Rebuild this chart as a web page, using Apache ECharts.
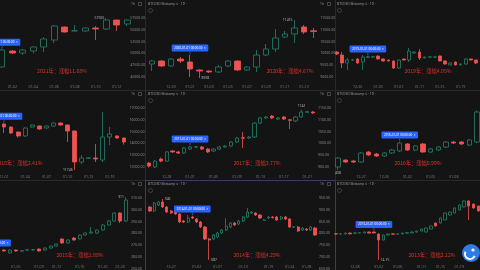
<!DOCTYPE html>
<html>
<head>
<meta charset="utf-8">
<script src="https://cdn.jsdelivr.net/npm/echarts@6/dist/echarts.min.js"></script>
<style>
html, body { margin: 0; padding: 0; background: #141414; }
#chart { width: 480px; height: 270px; }
</style>
</head>
<body>
<div id="chart"></div>
<script>
var years = ['2021', '2020', '2019', '2018', '2017', '2016', '2015', '2014', '2013'];
var gains = ['11.68%', '4.67%', '4.05%', '2.41%', '3.77%', '0.99%', '1.88%', '4.29%', '2.12%'];

// [open, close, low, high]
var ohlc2021 = [
	[47119, 50720, 47000, 50900], [50508, 50085, 49900, 50700], [50085, 50720, 49661, 50900],
	[50508, 51356, 50000, 51500], [51356, 53051, 50297, 53475], [52839, 55805, 52203, 56017],
	[55593, 54534, 54400, 55700], [54746, 54800, 54700, 56017], [54746, 55381, 54600, 55500],
	[55381, 55169, 52839, 55805], [55169, 57076, 54958, 57500], [57076, 56017, 54746, 57100],
	[56229, 57076, 55800, 57200]
];
var ohlc2020 = [
	[9551, 9678, 9254, 9720], [9678, 9466, 9424, 9720], [9466, 9763, 9424, 9805],
	[9763, 9678, 9593, 9848], [9636, 9339, 9000, 9932], [9297, 9254, 8958, 9320],
	[9254, 9212, 9170, 9280], [9212, 9424, 9170, 9509], [9466, 9678, 9424, 9720],
	[9678, 9297, 9254, 9700], [9297, 9424, 9254, 9466], [9424, 9932, 9212, 10144],
	[9932, 10186, 9890, 10398], [10186, 10653, 10059, 11034], [10695, 10822, 10653, 10949],
	[10822, 11076, 10441, 11415], [11119, 10907, 10822, 11203], [10960, 10930, 10653, 11076]
];
var ohlc2019 = [
	[3812, 3795, 3786, 3820], [3786, 3719, 3676, 3812], [3719, 3744, 3659, 3761],
	[3742, 3746, 3736, 3753], [3753, 3719, 3710, 3761], [3727, 3769, 3659, 3786],
	[3767, 3771, 3761, 3778], [3769, 3772, 3765, 3776], [3778, 3753, 3748, 3782],
	[3753, 3736, 3730, 3757], [3744, 3736, 3730, 3748], [3736, 3676, 3668, 3740],
	[3676, 3744, 3670, 3748], [3753, 3744, 3740, 3757], [3744, 3820, 3727, 3846],
	[3803, 3812, 3798, 3816], [3812, 3761, 3744, 3837], [3761, 3769, 3757, 3773],
	[3768, 3771, 3765, 3775], [3768, 3770, 3764, 3774], [3778, 3736, 3732, 3782],
	[3736, 3710, 3706, 3740], [3702, 3719, 3698, 3723], [3727, 3702, 3698, 3731],
	[3702, 3710, 3698, 3714], [3710, 3753, 3706, 3757], [3753, 3744, 3740, 3757],
	[3744, 3719, 3710, 3748]
];
var ohlc2018 = [
	[15644, 15390, 14881, 15700], [15390, 14881, 14800, 15450], [14966, 14627, 14500, 15000],
	[14627, 15305, 14550, 15350], [15390, 15559, 15330, 15600], [15475, 15220, 15150, 15520],
	[15305, 15475, 15250, 15520], [15475, 15729, 15420, 15780], [15729, 15559, 15500, 15770],
	[15559, 15051, 14119, 15600], [15051, 12424, 11746, 15100], [12424, 12763, 12254, 13017],
	[12740, 12780, 12700, 12820], [12763, 12678, 12424, 13949], [12593, 14542, 12424, 16661],
	[14542, 14797, 13864, 15390], [14627, 14458, 14400, 14700], [14458, 14119, 13900, 14500]
];
var ohlc2017 = [
	[917, 904, 898, 921], [900, 925, 896, 930], [934, 925, 920, 940], [925, 964, 921, 968],
	[968, 964, 959, 972], [964, 959, 955, 968], [959, 981, 955, 985], [976, 985, 972, 989],
	[984, 986, 981, 989], [985, 976, 972, 989], [976, 964, 959, 980], [968, 976, 964, 980],
	[976, 985, 972, 989], [985, 989, 981, 993], [989, 1006, 985, 1010], [1006, 1023, 1002, 1027],
	[1024, 1022, 981, 1048], [1023, 1027, 1019, 1031], [1027, 1086, 1023, 1090], [1086, 1108, 1082, 1112],
	[1108, 1112, 1103, 1116], [1116, 1108, 1103, 1120], [1103, 1108, 1099, 1112], [1112, 1103, 1099, 1116],
	[1100, 1098, 1061, 1103], [1095, 1112, 1091, 1116], [1112, 1133, 1108, 1142], [1132, 1134, 1129, 1137],
	[1133, 1129, 1125, 1137]
];
var ohlc2016 = [
	[410.0, 417.6, 407.5, 418.5], [415.9, 414.2, 413.5, 416.5], [415.1, 414.2, 413.3, 416.0],
	[414.2, 421.9, 413.5, 422.7], [422.7, 420.2, 419.3, 423.6], [421.0, 419.3, 418.5, 421.9],
	[419.3, 421.9, 418.5, 422.7], [421.9, 424.4, 421.0, 425.3], [423.6, 430.3, 422.7, 431.2],
	[429.5, 424.4, 423.6, 430.3], [424.4, 427.8, 423.6, 428.6], [429.5, 422.7, 421.9, 430.3],
	[422.7, 425.3, 421.9, 426.1], [424.4, 426.9, 423.6, 427.8], [426.9, 431.2, 426.1, 432.0],
	[431.2, 430.3, 429.5, 432.0], [431.2, 429.5, 428.6, 432.0], [428.6, 432.9, 427.8, 433.7],
	[431.2, 456.6, 430.3, 458.0]
];
var ohlc2015 = [
	[264.8, 265.3, 264.0, 266.0], [264.2, 265.1, 263.5, 265.8], [265.9, 265.1, 264.5, 266.5],
	[263.4, 265.9, 262.8, 266.5], [265.9, 265.1, 264.5, 266.4], [265.0, 265.3, 264.6, 265.8],
	[265.8, 266.1, 265.4, 266.6], [265.9, 266.3, 265.5, 266.8], [266.8, 265.1, 264.6, 267.2],
	[265.9, 267.6, 265.4, 268.1], [267.6, 269.3, 267.1, 269.8], [269.3, 271.0, 268.8, 271.5],
	[275.3, 271.9, 271.2, 276.0], [271.9, 274.4, 271.2, 275.0], [276.1, 274.4, 273.8, 276.8],
	[275.3, 278.6, 274.8, 279.2], [278.6, 280.3, 278.0, 280.9], [280.3, 281.2, 279.7, 285.4],
	[280.3, 282.9, 279.7, 283.5], [282.9, 287.1, 282.3, 287.8], [287.1, 290.5, 286.5, 291.2],
	[290.5, 297.3, 290.0, 298.0], [297.3, 290.5, 288.8, 298.0], [290.5, 308.3, 289.8, 310.8]
];
var ohlc2014 = [
	[911.9, 894.9, 890.7, 916.1], [894.9, 928.8, 890.7, 933.1], [920.3, 933.1, 916.0, 937.3],
	[933.1, 911.9, 907.6, 945.8], [911.9, 890.7, 886.4, 916.1], [894.9, 886.4, 882.2, 899.2],
	[890.7, 882.2, 878.0, 894.9], [882.2, 848.3, 844.1, 886.4], [852.5, 848.3, 844.1, 856.8],
	[848.3, 865.3, 844.1, 878.0], [869.5, 865.3, 861.0, 873.7], [861.0, 848.3, 844.1, 865.3],
	[848.3, 827.1, 822.9, 852.5], [827.1, 776.3, 772.0, 831.4], [776.3, 772.0, 687.3, 780.5],
	[776.3, 793.2, 772.0, 797.4], [784.8, 801.7, 780.5, 805.9], [801.7, 814.4, 797.4, 818.7],
	[814.4, 831.4, 810.2, 865.0], [827.1, 844.1, 822.9, 848.3], [844.1, 835.6, 831.4, 848.3],
	[839.8, 852.5, 835.6, 856.8], [852.5, 869.5, 848.3, 873.7], [869.5, 890.7, 865.3, 907.6],
	[886.4, 890.7, 882.2, 894.9], [886.4, 878.0, 873.7, 890.7], [878.0, 865.3, 861.0, 882.2],
	[855.0, 857.0, 852.5, 861.0], [865.3, 869.5, 861.0, 873.7], [869.5, 867.4, 863.0, 873.7],
	[869.5, 856.8, 852.5, 873.7], [861.0, 869.5, 856.8, 873.7], [869.5, 861.0, 856.8, 873.7],
	[861.0, 827.1, 822.9, 865.3], [826.0, 828.0, 822.9, 831.4], [827.1, 810.2, 806.0, 831.4],
	[814.4, 822.9, 810.2, 827.1], [818.7, 814.4, 810.2, 822.9], [814.4, 827.1, 810.2, 831.4],
	[822.9, 793.2, 789.0, 827.1]
];
var ohlc2013 = [
	[16.97, 16.94, 16.90, 17.00], [16.94, 16.97, 16.90, 17.00], [16.95, 17.03, 16.92, 17.06],
	[17.03, 16.96, 16.92, 17.06], [17.01, 17.05, 16.98, 17.08], [17.03, 17.07, 17.00, 17.10],
	[17.04, 17.12, 17.00, 17.15], [17.12, 17.03, 17.00, 17.15], [17.12, 17.04, 17.00, 17.16],
	[16.95, 16.44, 14.75, 17.00], [16.44, 16.86, 16.40, 16.90], [16.86, 16.95, 16.82, 16.98],
	[16.96, 16.93, 16.90, 16.99], [16.93, 16.97, 16.90, 17.00], [16.96, 17.03, 16.92, 17.06],
	[17.02, 17.06, 16.99, 17.09], [17.04, 17.12, 17.00, 17.15], [17.12, 17.20, 17.08, 17.24],
	[17.20, 17.37, 17.16, 17.40], [17.12, 17.46, 17.08, 17.50], [17.37, 17.63, 17.33, 17.67],
	[17.88, 17.63, 17.58, 17.92], [17.88, 18.31, 17.84, 18.35], [18.14, 18.73, 18.10, 18.77],
	[18.56, 18.81, 18.52, 18.85], [18.73, 19.15, 18.69, 19.20], [18.98, 19.41, 18.94, 19.45],
	[19.24, 19.75, 19.20, 19.80], [19.75, 19.32, 18.14, 19.80], [19.49, 19.15, 19.10, 19.52],
	[19.32, 18.90, 18.85, 19.36]
];
var ohlc = [ohlc2021, ohlc2020, ohlc2019, ohlc2018, ohlc2017, ohlc2016, ohlc2015, ohlc2014, ohlc2013];

// candle index of 01-01 in each panel
var newYearAt = [0, 4, 6, 0, 7, 8, 0, 10, 8];

// price scale: top labelled level and step
var yTop = [57500, 11500, 4100, 17000, 1150, 460, 310, 950, 20];
var yStep = [2500, 500, 100, 1000, 50, 10, 10, 50, 1];

// date ticks: candle index and label
var tickAt = [
	[1, 3, 5, 7, 9, 11],
	[2, 4, 6, 8, 10, 12, 14, 16],
	[4, 8, 12, 16, 20, 24],
	[0, 3, 6, 9, 12, 15],
	[3, 7, 11, 15, 19, 23, 27],
	[3, 6, 9, 12, 15],
	[4, 8, 11, 15, 19, 22],
	[5, 11, 16, 22, 28, 33, 37],
	[4, 9, 13, 18, 22, 26]
];
var tickText = [
	['01-02', '01-04', '01-06', '01-08', '01-10', '01-12'],
	['12-30', '01-01', '01-03', '01-05', '01-07', '01-09', '01-11', '01-13'],
	['12-30', '01-03', '01-07', '01-11', '01-15', '01-19'],
	['01-01', '01-04', '01-07', '01-10', '01-13', '01-16'],
	['12-28', '01-01', '01-05', '01-09', '01-13', '01-17', '01-21'],
	['12-27', '12-30', '01-02', '01-05', '01-08'],
	['01-05', '01-09', '01-12', '01-16', '01-20', '01-23'],
	['12-27', '01-02', '01-07', '01-13', '01-19', '01-24', '01-28'],
	['12-28', '01-02', '01-06', '01-11', '01-15', '01-19']
];

// panel placement (pixels) and which high/low labels each panel shows
var layout = [
	{left: -3.2, slot: 10.42, slots: 13, row: 0, yOff: -4, marks: [['max', 'left']], noteX: 62},
	{left: 147.25, slot: 9.5, slots: 18, row: 0, yOff: 0, marks: [['max', 'left'], ['min', 'right']], noteX: 290},
	{left: 334.4, slot: 5.15, slots: 31, row: 0, yOff: 0, marks: [], noteX: 428},
	{left: 0.47, slot: 7.06, slots: 18, row: 1, yOff: 0, marks: [['min', 'left']], noteX: 19},
	{left: 146.1, slot: 5.86, slots: 29, row: 1, yOff: 0, marks: [['max', 'top']], noteX: 257},
	{left: 334.1, slot: 7.72, slots: 21, row: 1, yOff: 0, marks: [['min', 'bottom']], noteX: 418},
	{left: -10.3, slot: 5.8, slots: 24, row: 2, yOff: 0, marks: [['max', 'left']], noteX: 80},
	{left: 147.9, slot: 4.23, slots: 40, row: 2, yOff: 0, marks: [['max', 'right'], ['min', 'right']], noteX: 257},
	{left: 333.6, slot: 4.743, slots: 33, row: 2, yOff: 0, marks: [['min', 'right']], noteX: 432}
];

var BG = '#141414';
var UP = '#22806a';
var DOWN = '#ef5350';
var NOTE = '#d9342b';
var BLUE = '#2962ff';

function priceText(v) {
	return v >= 100 ? String(Math.round(v)) : v.toFixed(2);
}

function tickInterval(at) {
	return function (idx) {
		return at.indexOf(idx) >= 0;
	};
}

function tickFormatter(at, txt) {
	return function (value, idx) {
		var k = at.indexOf(idx);
		return k >= 0 ? txt[k] : '';
	};
}

var grids = [], xAxes = [], yAxes = [], series = [], graphics = [];

for (var i = 0; i < 9; i++) {
	var L = layout[i];
	var cats = [];
	for (var k = 0; k < L.slots; k++) {
		cats.push(k);
	}
	grids.push({
		left: L.left,
		top: 90 * L.row + 6.2,
		width: L.slot * L.slots,
		height: 82.6,
		containLabel: false,
		outerBoundsMode: 'none'
	});
	xAxes.push({
		type: 'category',
		gridIndex: i,
		data: cats,
		offset: -6,
		axisLine: {show: false},
		axisTick: {show: false},
		splitLine: {show: false},
		axisLabel: {
			interval: tickInterval(tickAt[i]),
			formatter: tickFormatter(tickAt[i], tickText[i]),
			hideOverlap: false,
			fontSize: 3.6,
			fontFamily: 'Noto Sans',
			color: '#767676',
			margin: 2
		}
	});
	yAxes.push({
		type: 'value',
		gridIndex: i,
		position: 'right',
		offset: L.yOff,
		min: yTop[i] - 6 * yStep[i],
		max: yTop[i] + yStep[i],
		interval: yStep[i],
		axisLine: {show: false},
		axisTick: {show: false},
		splitLine: {show: false},
		axisLabel: {
			fontSize: 3.5,
			fontFamily: 'Noto Sans',
			color: '#8a8a8a',
			margin: 2,
			showMinLabel: L.row === 2,
			showMaxLabel: false,
			hideOverlap: false,
			formatter: function (v) {
				return v.toFixed(2);
			}
		}
	});

	var mp = [];
	for (var m = 0; m < L.marks.length; m++) {
		mp.push({
			type: L.marks[m][0],
			valueDim: L.marks[m][0] === 'max' ? 'highest' : 'lowest',
			symbol: 'rect',
			symbolSize: 1,
			itemStyle: {color: 'rgba(0,0,0,0)'},
			label: {
				show: true,
				position: L.marks[m][1],
				distance: 1.5,
				color: '#b4b4b4',
				fontSize: 3.4,
				fontFamily: 'Noto Sans',
				formatter: function (p) {
					return priceText(p.value);
				}
			}
		});
	}
	var a = newYearAt[i];
	mp.push({
		coord: [a, ohlc[i][a][3]],
		symbol: 'rect',
		symbolSize: [0.7, 3],
		symbolOffset: [0, -2],
		itemStyle: {color: BLUE},
		label: {
			show: true,
			position: 'top',
			distance: 0,
			formatter: years[i] + '-01-01 00:00:00  ×',
			backgroundColor: BLUE,
			color: '#ffffff',
			fontSize: 3,
			fontFamily: 'Noto Sans',
			padding: [2, 2.5],
			borderRadius: 1
		}
	});

	series.push({
		type: 'candlestick',
		xAxisIndex: i,
		yAxisIndex: i,
		data: ohlc[i],
		barWidth: '62%',
		clip: false,
		itemStyle: {
			color: BG,
			color0: DOWN,
			borderColor: UP,
			borderColor0: DOWN,
			borderWidth: 0.8
		},
		markPoint: {
			silent: true,
			animation: false,
			data: mp
		}
	});

	graphics.push({
		type: 'text',
		x: L.noteX,
		y: 71 + 92 * L.row,
		z: 100,
		style: {
			text: years[i] + '年：涨幅' + gains[i],
			fill: NOTE,
			font: '5.2px "Noto Sans CJK SC"',
			textAlign: 'center',
			textVerticalAlign: 'middle'
		}
	});
}

// panel frames
graphics.push({type: 'line', shape: {x1: 145.5, y1: 0, x2: 145.5, y2: 270}, style: {stroke: '#2a2a2a', lineWidth: 1}});
graphics.push({type: 'line', shape: {x1: 335.5, y1: 0, x2: 335.5, y2: 270}, style: {stroke: '#2a2a2a', lineWidth: 1}});
graphics.push({type: 'line', shape: {x1: 0, y1: 90.5, x2: 480, y2: 90.5}, style: {stroke: '#2a2a2a', lineWidth: 1}});
graphics.push({type: 'line', shape: {x1: 0, y1: 180.5, x2: 480, y2: 180.5}, style: {stroke: '#2a2a2a', lineWidth: 1}});
graphics.push({type: 'rect', shape: {x: 145.5, y: 180.5, width: 190, height: 95}, style: {fill: 'none', stroke: '#34415c', lineWidth: 1}});

// chart headers
for (var r = 0; r < 3; r++) {
	var cols = [0, 189];
	for (var c = 0; c < 2; c++) {
		var dx = cols[c];
		graphics.push({type: 'text', x: 131 + dx, y: 4 + 90 * r, style: {text: '1h', fill: '#8c8c8c', font: '3.4px "Noto Sans"', textVerticalAlign: 'middle'}});
		graphics.push({type: 'rect', shape: {x: 138.5 + dx, y: 2.5 + 90 * r, width: 3, height: 3}, style: {fill: 'none', stroke: '#7a7a7a', lineWidth: 0.5}});
		graphics.push({type: 'text', x: 148 + dx, y: 4 + 90 * r, style: {text: 'BTCUSD Bitstamp ⊻ · 1D ·', fill: '#9a9a9a', font: '3.3px "Noto Sans"', textVerticalAlign: 'middle'}});
		graphics.push({type: 'circle', shape: {cx: 150.5 + dx, cy: 10.5 + 90 * r, r: 2}, style: {fill: 'none', stroke: '#555555', lineWidth: 0.6}});
	}
}

// logo
graphics.push({type: 'circle', z: 100, shape: {cx: 471, cy: 253, r: 9}, style: {fill: '#2f7be5'}});
graphics.push({type: 'arc', z: 101, shape: {cx: 470, cy: 254, r: 5, startAngle: 0.4, endAngle: 3.6}, style: {stroke: '#ffffff', lineWidth: 2, fill: 'none'}});
graphics.push({type: 'circle', z: 101, shape: {cx: 473, cy: 250, r: 1.6}, style: {fill: '#ffffff'}});

var chart = echarts.init(document.getElementById('chart'));
chart.setOption({
	backgroundColor: BG,
	animation: false,
	grid: grids,
	xAxis: xAxes,
	yAxis: yAxes,
	series: series,
	graphic: {elements: graphics}
});
</script>
</body>
</html>
